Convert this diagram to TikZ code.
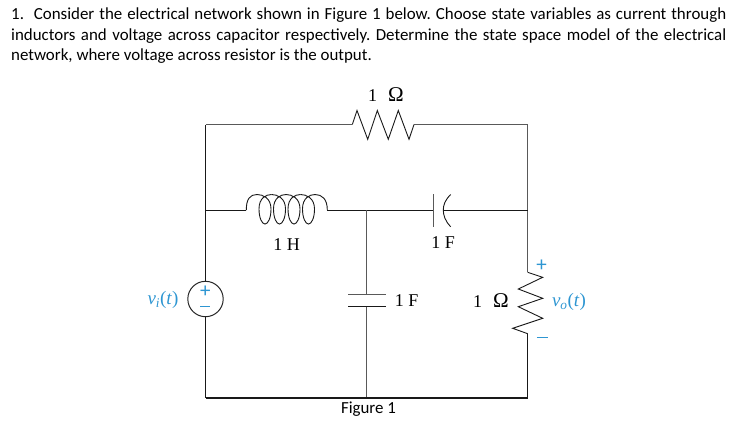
\documentclass[tikz,border=0pt]{standalone}
\usepackage{fontspec}
\setmainfont{Carlito}
\newfontfamily\circuitfont{Liberation Serif}
\definecolor{voltblue}{HTML}{2E96D2}
\newcommand{\bigohm}{{\fontsize{21}{20}\selectfont Ω}}
\tikzset{
  wire/.style={line width=1pt, black!90},
  greywire/.style={line width=1.3pt, black!65},
  busbar/.style={line width=2pt, black!90},
  part/.style={line width=0.9pt, black!90},
  value/.style={font=\circuitfont\fontsize{18}{20}\selectfont, inner sep=0pt, black},
  volt/.style={font=\circuitfont\fontsize{19}{20}\selectfont, inner sep=0pt, voltblue},
  sign/.style={font=\fontsize{21}{15}\selectfont, inner sep=0pt, voltblue}
}

\begin{document}
\begin{tikzpicture}[x=1pt, y=-1pt]
  \useasboundingbox (0,0) rectangle (751,421);

  % problem statement
  \node[anchor=north west, inner sep=0pt, text width=715pt, align=justify,
        font=\fontsize{16.9}{20.5}\selectfont] (question) at (11,8)
    {\frenchspacing 1.\ \ Consider the electrical network shown in Figure 1 below. Choose state variables as current through\linebreak
     inductors and voltage across capacitor respectively. Determine the state space model of the electrical\linebreak
     network, where voltage across resistor is the output.};

  % corners and junctions
  \coordinate (tl) at (205.5,124.5);
  \coordinate (tr) at (527.7,124.5);
  \coordinate (ml) at (205.5,210);
  \coordinate (mc) at (366.7,210);
  \coordinate (mr) at (527.7,210);
  \coordinate (bl) at (205.5,397.7);
  \coordinate (bc) at (366.7,397.7);
  \coordinate (br) at (527.7,397.7);

  % component terminals
  \coordinate (r1a) at (352.3,124.5);
  \coordinate (r1b) at (414,124.5);
  \coordinate (l1a) at (246.3,210);
  \coordinate (l1b) at (327.3,210);
  \coordinate (c1a) at (433.7,210);
  \coordinate (c1b) at (443.3,210);
  \coordinate (c2a) at (366.7,294.7);
  \coordinate (c2b) at (366.7,306.3);
  \coordinate (r2a) at (527.7,272.3);
  \coordinate (r2b) at (527.7,333.7);

  % source
  \node[circle, draw=black!85, line width=1pt, minimum size=35.4pt, inner sep=0pt] (vs) at (205.5,299) {};
  \node[sign] (vsplus) at (205.3,291.7) {+};
  \node[inner sep=0pt, voltblue] (vsminus) at (205.3,306) {\rule{10pt}{1pt}};

  % wires
  \draw[greywire] (r1a) -- (tl);
  \draw[wire] (tl) -- (ml) -- (vs);
  \draw[wire] (vs) -- (bl);
  \draw[greywire] (r1b) -- (tr) -- (mr);
  \draw[greywire] (mr) -- (r2a);
  \draw[wire] (ml) -- (l1a);
  \draw[wire] (l1b) -- (c1a);
  \draw[wire] (c1b) -- (mr);
  \draw[greywire] (mc) -- (c2a);
  \draw[greywire] (c2b) -- (bc);
  \draw[wire] (r2b) -- (br);
  \draw[busbar] (bl) -- (br);

  % top resistor
  \draw[part, line join=miter] (r1a) -- (357,110.5) -- (367.7,139.3) -- (377.3,110.5)
    -- (388.3,139.3) -- (398.3,110.5) -- (409,139.3) -- (r1b);

  % right resistor
  \draw[part] (r2a) -- (542.7,277.3) -- (518.3,289) -- (542.7,298.3) -- (518.3,306.7)
    -- (542.7,318.3) -- (512.7,328.3) -- (r2b);

  % inductor
  \draw[part] (l1a) .. controls (246.3,199) and (250,194.5) .. (257,194.5);
  \foreach \c in {265,279.5,294,308.5}{
    \draw[part] (\c-8,194.5) .. controls (\c-2,194.5) and (\c+6,198) .. (\c+6,209)
      .. controls (\c+6,218) and (\c+3,224) .. (\c,224)
      .. controls (\c-3,224) and (\c-6,218) .. (\c-6,209)
      .. controls (\c-6,198) and (\c+1,194.5) .. (\c+6.5,194.5);
  }
  \draw[part] (315,194.5) .. controls (322,194.5) and (327.3,199) .. (l1b);

  % top capacitor
  \draw[greywire] (433.7,194) -- (433.7,226.7);
  \draw[part] (450.7,194.5) .. controls (445,200) and (443.3,205) .. (c1b)
    .. controls (443.3,215) and (445,221) .. (450.7,226.7);

  % middle capacitor
  \draw[greywire] (348,294.7) -- (385.7,294.7);
  \draw[part] (348,306.3) -- (385.7,306.3);

  % labels
  \node[value] (r1label) at (386,95) {1\hspace{11pt}\bigohm};
  \node[value] (l1label) at (286.7,245) {1 H};
  \node[value] (c1label) at (443,243) {1 F};
  \node[value] (c2label) at (406.7,301) {1 F};
  \node[value] (r2label) at (491,301) {1\hspace{11pt}\bigohm};
  \node[volt] (vilabel) at (163,300) {\textit{v}\textsubscript{\textit{i}}(\textit{t})};
  \node[volt] (volabel) at (569,302) {\textit{v}\textsubscript{\textit{o}}(\textit{t})};
  \node[sign] (voplus) at (541.7,266) {+};
  \node[inner sep=0pt, voltblue] (vominus) at (542.3,337.5) {\rule{11pt}{1pt}};
  \node[font=\fontsize{16.9}{20}\selectfont, inner sep=0pt] (caption) at (368.5,409) {Figure 1};
\end{tikzpicture}
\end{document}
